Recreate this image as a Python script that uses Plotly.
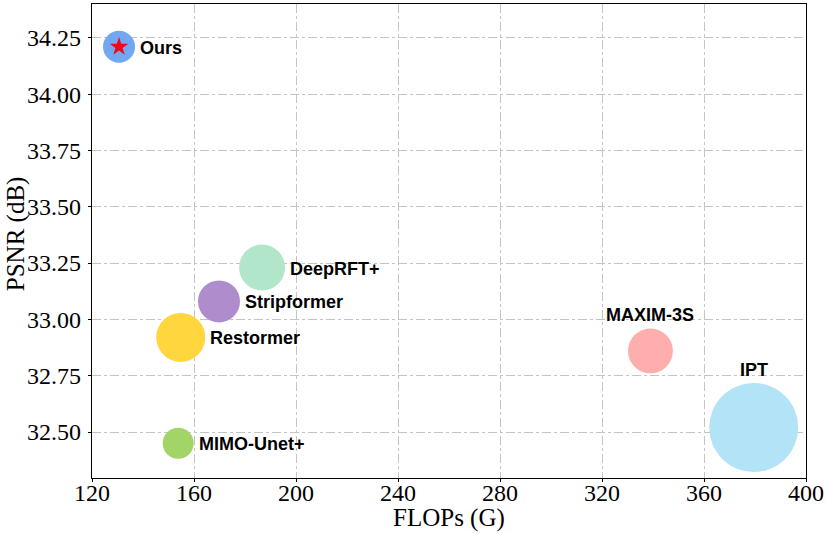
import plotly.graph_objects as go

methods = ["Ours", "MIMO-Unet+", "Restormer", "Stripformer", "DeepRFT+", "MAXIM-3S", "IPT"]
flops = [130.6, 153.8, 154.8, 169.8, 186.7, 339.0, 379.5]
psnr = [34.21, 32.45, 32.92, 33.08, 33.23, 32.86, 32.52]
sizes = [32, 31, 49, 42, 46, 45, 89]
colors = ["#72A8F2", "#A2D468", "#FFD63E", "#AF8CCB", "#B2E6CA", "#FFAEAE", "#B3E3F7"]
label_pos = ["right", "right", "right", "right", "right", "top", "top"]

x_ticks = [120, 160, 200, 240, 280, 320, 360, 400]
y_ticks = [32.50, 32.75, 33.00, 33.25, 33.50, 33.75, 34.00, 34.25]
x_title = "FLOPs (G)"
y_title = "PSNR (dB)"

fig = go.Figure()
fig.add_trace(go.Scatter(
    x=flops, y=psnr, mode="markers",
    marker=dict(size=sizes, color=colors, opacity=1, line=dict(width=0)),
    hoverinfo="text", text=methods, showlegend=False,
))
fig.add_trace(go.Scatter(
    x=[flops[0]], y=[psnr[0]], mode="markers",
    marker=dict(symbol="star", size=14, color="#F00A14", line=dict(width=0)),
    showlegend=False,
))

for m, x, y, s, pos in zip(methods, flops, psnr, sizes, label_pos):
    if pos == "right":
        fig.add_annotation(x=x, y=y, text=m, showarrow=False, xanchor="left", yanchor="middle",
                           xshift=s / 2 + 3, yshift=-1,
                           font=dict(family="Liberation Sans", size=18, color="black", weight="bold"))
    else:
        fig.add_annotation(x=x, y=y, text=m, showarrow=False, xanchor="center", yanchor="bottom",
                           yshift=s / 2 + 1,
                           font=dict(family="Liberation Sans", size=18, color="black", weight="bold"))

title_font = dict(family="Liberation Serif", size=25, color="black")
fig.add_annotation(xref="paper", yref="paper", x=0.5, y=-0.084, text=x_title, showarrow=False,
                   xanchor="center", yanchor="middle", font=title_font)
fig.add_annotation(xref="paper", yref="paper", x=-0.106, y=0.515, text=y_title, showarrow=False,
                   xanchor="center", yanchor="middle", textangle=-90, font=title_font)

axis_common = dict(
    showline=True, linecolor="black", linewidth=1.2, mirror=True,
    ticks="outside", ticklen=3, tickcolor="black", tickwidth=1,
    showgrid=True, gridcolor="#C4C4C4", gridwidth=1, griddash="dashdot",
    zeroline=False,
    tickfont=dict(family="Liberation Serif", size=24, color="black"),
)

fig.update_xaxes(range=[120, 400], tickvals=x_ticks, ticktext=[str(v) for v in x_ticks],
                 ticklabelstandoff=-10, automargin=False, **axis_common)
fig.update_yaxes(range=[32.296, 34.40], tickvals=y_ticks, ticktext=[f"{v:.2f}" for v in y_ticks],
                 ticklabelstandoff=2, automargin=False, **axis_common)

fig.update_layout(
    width=827, height=533,
    margin=dict(l=92, r=21, t=4, b=55),
    paper_bgcolor="white", plot_bgcolor="white",
)

fig.write_html("out.html", config={"displayModeBar": False},
               post_script="document.body.style.margin='0';document.body.style.padding='0';")
